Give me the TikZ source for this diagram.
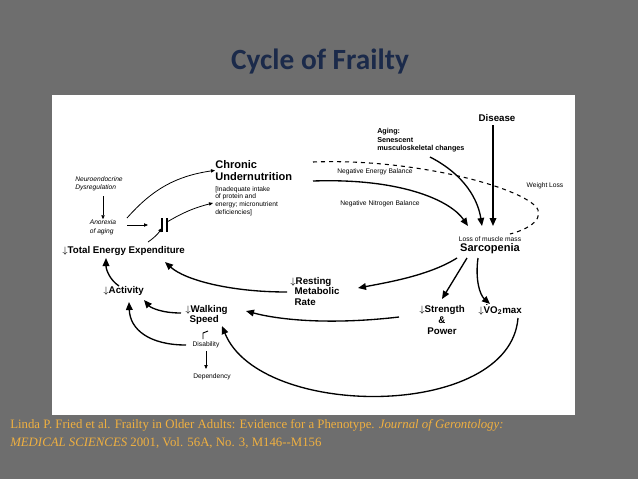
\documentclass[tikz,border=0pt]{standalone}
\usepackage{fontspec}
\setmainfont{Liberation Sans}
\newfontfamily\titlefont{Carlito}
\newfontfamily\citefont{Liberation Serif}
\usetikzlibrary{arrows.meta}
\definecolor{bg}{HTML}{6E6E6E}
\definecolor{navy}{HTML}{1B2A4A}
\definecolor{cite}{HTML}{F0B040}
\begin{document}
\begin{tikzpicture}[x=0.75pt,y=-0.75pt,
  lbl/.style={inner sep=0pt,font=\fontsize{7.3}{8}\selectfont\bfseries,align=left},
  sm/.style={inner sep=0pt,font=\fontsize{5}{5.8}\selectfont,align=left},
  it/.style={inner sep=0pt,font=\fontsize{5}{6.5}\selectfont\itshape,align=left},
  arr/.style={line width=1pt,-{Triangle[length=6pt,width=5pt]}},
  thin/.style={line width=0.6pt,-{Triangle[length=3pt,width=2.5pt]}}]
\fill[bg] (0,0) rectangle (638,479);
\fill[white] (52,95) rectangle (575,415);
\node[font=\titlefont\bfseries\fontsize{22}{24}\selectfont,text=navy] (title) at (320,62) {Cycle of Frailty};
\node[font=\citefont\fontsize{9.6}{14}\selectfont,text=cite,anchor=north west,align=left,inner sep=0pt] (cite) at (10,419)
 {Linda P. Fried et al. Frailty in Older Adults: Evidence for a Phenotype. \textit{Journal of Gerontology:}\\ \textit{MEDICAL SCIENCES} 2001, Vol. 56A, No. 3, M146--M156};

\node[lbl] (dis) at (497,118) {Disease};
\node[sm,font=\fontsize{5.4}{6.4}\selectfont\bfseries,anchor=north west] (aging) at (377,128) {Aging:\\Senescent\\musculoskeletal changes};
\node[lbl,anchor=north west,font=\fontsize{8.3}{9}\selectfont\bfseries] (chr) at (215,160) {Chronic\\Undernutrition};
\node[sm,anchor=north west] (chrt) at (215,186) {[Inadequate intake\\of protein and\\energy; micronutrient\\deficiencies]};
\node[it,anchor=north west] (neuro) at (75,176) {Neuroendocrine\\Dysregulation};
\node[it] (anor) at (103,227) {Anorexia\\of aging};
\node[lbl,anchor=west] (tee) at (62,251) {$\downarrow$Total Energy Expenditure};
\node[sm] (neb) at (375,172) {Negative Energy Balance};
\node[sm] (nnb) at (380,204) {Negative Nitrogen Balance};
\node[sm] (wl) at (545,186) {Weight Loss};
\node[sm] (loss) at (490,239) {Loss of muscle mass};
\node[lbl,font=\fontsize{8.3}{9}\selectfont\bfseries] (sar) at (490,249) {Sarcopenia};
\node[lbl,anchor=north west] (rmr) at (290,277) {$\downarrow$Resting\\\ \,Metabolic\\\ \,Rate};
\node[lbl,anchor=west] (act) at (103,291) {$\downarrow$Activity};
\node[lbl,anchor=north west] (walk) at (185,305) {$\downarrow$Walking\\\ \,Speed};
\node[lbl,align=center] (str) at (442,320) {$\downarrow$Strength\\\&\\Power};
\node[lbl] (vo) at (500,310) {$\downarrow$\.{V}O\textsubscript{2}max};
\node[sm] (disab) at (206,345) {Disability};
\node[sm] (dep) at (212,377) {Dependency};

\draw[thin] (103,196) -- (anor.north);
\coordinate (ax) at (127,218);
\draw[thin] (ax) to[bend left=20] (chr.west);
\coordinate (brk) at (148,225);
\draw[thin] (127,225) -- (brk);
\draw[line width=0.8pt] (162,218) -- (162,232) (167,218) -- (167,232);
\draw[thin] (148,242) to[bend right=10] (162,228);
\draw[thin] (167,222) to[bend left=8] (213,203);
\draw[line width=0.8pt,dashed] (313,162) .. controls (420,158) and (530,190) .. (538,210) .. controls (542,222) and (525,230) .. (510,234);
\draw[arr] (313,181) .. controls (400,178) and (450,200) .. (468,226);
\draw[arr] (430,157) .. controls (465,175) and (478,200) .. (482,226);
\draw[arr] (493,125) -- (493,226);
\draw[arr] (457,258) .. controls (430,275) and (390,282) .. (358,288);
\draw[arr] (467,258) -- (442,299);
\draw[arr] (478,258) .. controls (475,280) and (480,295) .. (490,304);
\draw[arr] (287,292) .. controls (230,292) and (185,280) .. (165,262);
\draw[arr] (119,286) .. controls (110,280) and (106,270) .. (106,258);
\draw[arr] (181,313) .. controls (160,313) and (150,307) .. (144,300);
\draw[arr] (186,345) .. controls (150,345) and (130,330) .. (129,302);
\draw[arr] (399,317) .. controls (330,325) and (280,320) .. (246,311);
\draw[arr] (518,318) .. controls (510,420) and (260,420) .. (222,326);
\draw[line width=0.7pt] (203,339) -- (203,333) -- (208,331);
\draw[thin] (206,351) -- (206,369);
\end{tikzpicture}
\end{document}
